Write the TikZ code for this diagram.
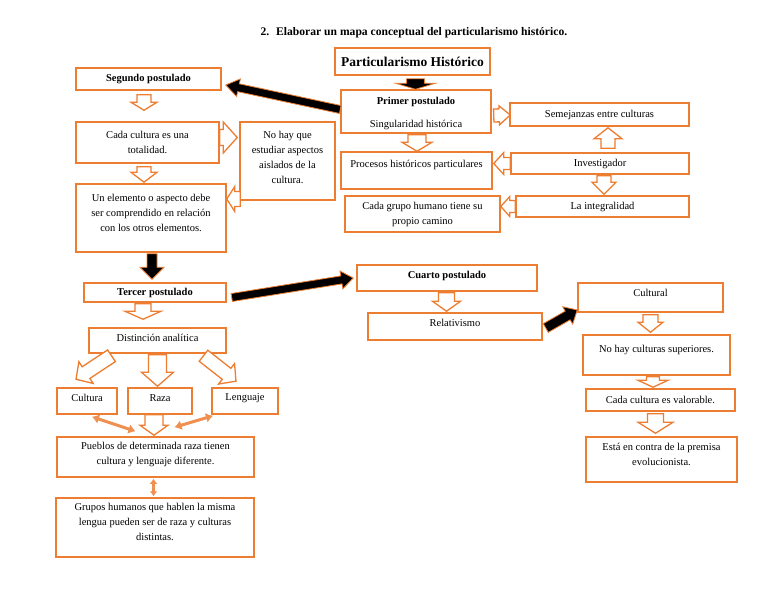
\documentclass[tikz,border=0pt]{standalone}
\usepackage{fontspec}
\setmainfont{Liberation Serif}
\usetikzlibrary{calc,arrows.meta}
\definecolor{orgc}{RGB}{237,125,49}
\newcommand\bx[4][0pt]{\parbox[c][#3][c]{#2}{\centering #4\par\vspace*{#1}}}
% block arrow: [style]{start}{tip}{shaft half}{head half}{head length}
\newcommand\blockarr[6][]{%
  \path let \p1=(#2), \p2=(#3) in \pgfextra{%
    \pgfmathsetmacro\baang{atan2(\y2-\y1,\x2-\x1)}%
    \pgfmathsetmacro\balen{veclen(\x2-\x1,\y2-\y1)}%
    \xdef\baAng{\baang}\xdef\baLen{\balen}%
    \xdef\baX{\x1}\xdef\baY{\y1}};
  \draw[#1,shift={(\baX,\baY)},rotate=\baAng]
    (0pt,-#4) -- ({\baLen pt-#6},-#4) -- ({\baLen pt-#6},-#5) -- (\baLen pt,0pt)
    -- ({\baLen pt-#6},#5) -- ({\baLen pt-#6},#4) -- (0pt,#4) -- cycle;
}
\begin{document}
\begin{tikzpicture}[x=1pt,y=-1pt,
  font=\fontsize{10.5}{15}\selectfont,
  box/.style={draw=orgc,line width=1.5pt,inner sep=0pt,fill=white},
  hol/.style={draw=orgc,line width=1.3pt,fill=white,line join=miter},
  blk/.style={fill=black,draw=orgc,line width=0.8pt,line join=miter},
  dbl/.style={draw=orgc!85!white,line width=3pt,{Latex[length=7pt,width=10pt]}-{Latex[length=7pt,width=10pt]}},
  dbls/.style={draw=orgc!85!white,line width=2.6pt,{Latex[length=5pt,width=8pt]}-{Latex[length=5pt,width=8pt]}}]
\fill[white] (0,0) rectangle (768,594);
\useasboundingbox (0,0) rectangle (768,594);

\node[anchor=west,font=\fontsize{11.6}{13}\selectfont\bfseries] (title) at (257,33)
  {2.\hspace{7pt}Elaborar un mapa conceptual del particularismo histórico.};

\node[box] (part) at (412.5,61.5) {\bx{155pt}{27pt}{\fontsize{13.5}{15}\selectfont\bfseries Particularismo Histórico}};
\node[box] (prim) at (416,111.5) {\bx[-4pt]{150pt}{43pt}{\textbf{Primer postulado}\\[8pt]Singularidad histórica}};
\node[box] (seg) at (148.5,79) {\bx{145pt}{22pt}{\textbf{Segundo postulado}}};
\node[box] (cada) at (147.5,142.5) {\bx{143pt}{41pt}{Cada cultura es una\\totalidad.}};
\node[box] (nohay) at (287.5,161) {\bx[7pt]{95pt}{78pt}{No hay que\\estudiar aspectos\\aislados de la\\cultura.}};
\node[box] (unel) at (151,218) {\bx[10pt]{150pt}{68pt}{Un elemento o aspecto debe\\ser comprendido en relación\\con los otros elementos.}};
\node[box] (semej) at (599.5,114.5) {\bx{179pt}{23pt}{Semejanzas entre culturas}};
\node[box] (proc) at (416.5,170.5) {\bx[11pt]{151pt}{37pt}{Procesos históricos particulares}};
\node[box] (invest) at (600,163.5) {\bx{178pt}{21pt}{Investigador}};
\node[box] (integ) at (602.5,206.5) {\bx{173pt}{21pt}{La integralidad}};
\node[box] (cgrupo) at (422.5,214) {\bx{155pt}{36pt}{Cada grupo humano tiene su\\propio camino}};
\node[box] (tercer) at (155,292.5) {\bx{142pt}{19pt}{\textbf{Tercer postulado}}};
\node[box] (dist) at (157.5,340.5) {\bx[5pt]{137pt}{25pt}{Distinción analítica}};
\node[box] (cultura) at (87,401) {\bx[6pt]{60pt}{26pt}{Cultura}};
\node[box] (raza) at (160,401) {\bx[6pt]{64pt}{26pt}{Raza}};
\node[box] (leng) at (245,401) {\bx[6pt]{66pt}{26pt}{Lenguaje}};
\node[box] (pueblos) at (155.5,457) {\bx[5pt]{197pt}{40pt}{Pueblos de determinada raza tienen\\cultura y lenguaje diferente.}};
\node[box] (grupos) at (155,527.5) {\bx[11pt]{198pt}{59pt}{Grupos humanos que hablen la misma\\lengua pueden ser de raza y culturas\\distintas.}};
\node[box] (cuarto) at (447,278) {\bx[4pt]{180pt}{26pt}{\textbf{Cuarto postulado}}};
\node[box] (relat) at (455,326.5) {\bx[7pt]{174pt}{27pt}{Relativismo}};
\node[box] (cultural) at (650.5,297.5) {\bx[9pt]{145pt}{29pt}{Cultural}};
\node[box] (nosup) at (656.5,355) {\bx[10pt]{147pt}{40pt}{No hay culturas superiores.}};
\node[box] (valor) at (660.5,400) {\bx{149pt}{22pt}{Cada cultura es valorable.}};
\node[box] (esta) at (661.5,459.5) {\bx[10pt]{151pt}{45pt}{Está en contra de la premisa\\evolucionista.}};

% hollow arrows
\blockarr[hol]{$(seg.south)+(-4.5,4)$}{$(cada.north)+(-3.5,-11)$}{7pt}{13pt}{8pt}
\blockarr[hol]{$(cada.south)+(-3.5,3)$}{$(unel.north)+(-7,-1)$}{7pt}{13pt}{10pt}
\blockarr[hol]{$(cada.east)+(0,-5)$}{$(nohay.west)+(-2,-23.5)$}{8pt}{15.5pt}{14pt}
\blockarr[hol]{$(nohay.west)+(1,38)$}{$(unel.east)+(0,-19)$}{7.5pt}{12.5pt}{8pt}
\blockarr[hol]{$(prim.south)+(1,1)$}{$(proc.north)+(0.5,0)$}{9pt}{15pt}{9pt}
\blockarr[hol]{$(prim.east)+(2,4)$}{$(semej.west)+(1,0.5)$}{6.5pt}{9.5pt}{11pt}
\blockarr[hol]{$(invest.west)+(0,0)$}{$(proc.east)+(1,-7)$}{6pt}{11pt}{10pt}
\blockarr[hol]{$(invest.north)+(8,-4)$}{$(semej.south)+(8.5,1)$}{7pt}{14pt}{11pt}
\blockarr[hol]{$(invest.south)+(4,1)$}{$(integ.north)+(1.5,-1)$}{7pt}{12pt}{12pt}
\blockarr[hol]{$(integ.west)+(0,0)$}{$(cgrupo.east)+(0,-7.5)$}{6pt}{10pt}{9pt}
\blockarr[hol]{$(tercer.south)+(-12,1)$}{$(dist.north)+(-14.5,-8)$}{8pt}{18pt}{8pt}
\blockarr[hol]{$(dist.south)+(-46,2)$}{$(cultura.north)+(-11,-8)$}{7pt}{13pt}{12pt}
\blockarr[hol]{$(dist.south)+(0,1)$}{$(raza.north)+(-2.5,-1)$}{9pt}{16pt}{14pt}
\blockarr[hol]{$(dist.south)+(46,2)$}{$(leng.north)+(-9,-6)$}{7pt}{13pt}{12pt}
\blockarr[hol]{$(raza.south)+(-6,0)$}{$(pueblos.north)+(-1.5,-1)$}{9pt}{14pt}{10pt}
\blockarr[hol]{$(cuarto.south)+(-0.5,1)$}{$(relat.north)+(-8.5,-1)$}{8pt}{14pt}{10pt}
\blockarr[hol]{$(cultural.south)+(0,2)$}{$(nosup.north)+(-6,-2)$}{7.5pt}{12.5pt}{10pt}
\blockarr[hol]{$(nosup.south)+(-3.5,1)$}{$(valor.north)+(-7.5,-1)$}{6.5pt}{15pt}{7pt}
\blockarr[hol]{$(valor.south)+(-5,2)$}{$(esta.north)+(-6,-3)$}{8pt}{17.5pt}{11pt}

% black arrows
\blockarr[blk]{$(part.south)+(3,3)$}{$(prim.north)+(-0.5,0)$}{9pt}{20pt}{6pt}
\blockarr[blk]{$(prim.west)+(0,-2)$}{$(seg.east)+(4,6)$}{4pt}{9pt}{13pt}
\blockarr[blk]{$(unel.south)+(1,1)$}{$(tercer.north)+(-3,-3)$}{5pt}{12pt}{12pt}
\blockarr[blk]{$(tercer.east)+(5,5)$}{$(cuarto.west)+(-3,0)$}{4pt}{9pt}{12pt}
\blockarr[blk]{$(relat.east)+(3,1.5)$}{$(cultural.west)+(0,12.5)$}{5pt}{10pt}{11pt}

% double-headed arrows
\draw[dbl] ($(cultura.south)+(5,2)$) -- ($(pueblos.north)+(-20,-5)$);
\draw[dbl] ($(leng.south)+(-32,1)$) -- ($(pueblos.north)+(19,-9)$);
\draw[dbls] ($(pueblos.south)+(-2,1)$) -- ($(grupos.north)+(-1.5,-1)$);
\end{tikzpicture}
\end{document}
